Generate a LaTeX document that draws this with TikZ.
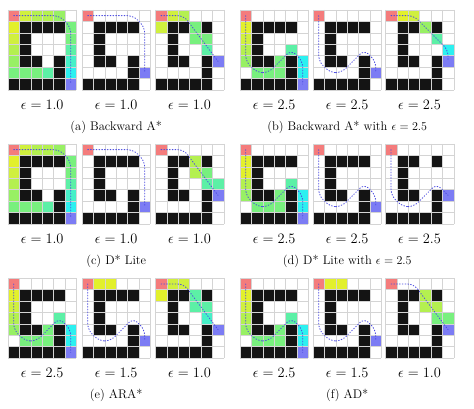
\documentclass[tikz,border=0pt]{standalone}
\usepackage{xcolor}
\usepackage{tikz}
\usetikzlibrary{positioning}
\definecolor{S}{HTML}{F47C7C}
\definecolor{G}{HTML}{7C7CF4}
\definecolor{K}{HTML}{141414}
\definecolor{W}{HTML}{FFFFFF}
\definecolor{Y1}{HTML}{E2F02C}
\definecolor{Y2}{HTML}{D0F03E}
\definecolor{Y3}{HTML}{B4F050}
\definecolor{L1}{HTML}{98F064}
\definecolor{L2}{HTML}{78F07E}
\definecolor{L3}{HTML}{5CF0A6}
\definecolor{L4}{HTML}{46F0C8}
\definecolor{C1}{HTML}{2CF0F0}
\definecolor{GridGray}{HTML}{D4D4D4}
\definecolor{RouteBlue}{HTML}{4C4CE0}

\newcommand{\maze}[4]{%
  \begin{scope}[shift={#1}, x=11.4pt, y=-11.4pt]
    \foreach \cells [count=\ri from 0] in #2 {
      \foreach \cell [count=\ci from 0] in \cells
        \fill[\cell] (\ci,\ri) rectangle ++(1,1);
    }
    \foreach \i in {0,...,6} \draw[gridline] (\i,0) -- (\i,7);
    \foreach \j in {0,...,7} \draw[gridline] (0,\j) -- (6,\j);
    \draw[route, shift={(0.5,0.5)}] #3;
    \coordinate (#4) at (3,7);
  \end{scope}}

\def\mazeplain{{S,W,W,W,W,W},{W,K,K,K,K,W},{W,K,W,W,W,W},{W,K,W,W,W,W},{W,K,K,W,K,W},{W,W,W,W,K,G},{K,K,K,K,K,W}}
\def\mazefull{{S,Y2,Y3,Y3,L1,W},{Y1,K,K,K,K,L2},{Y2,K,W,W,W,L2},{Y3,K,W,W,W,L3},{L1,K,K,W,K,L4},{L2,L2,L2,L3,K,C1},{K,K,K,K,K,G}}
\def\mazewave{{S,W,W,W,W,W},{Y1,K,K,K,K,W},{Y2,K,W,W,W,W},{Y3,K,W,W,L3,W},{L1,K,K,L2,K,C1},{W,L2,L2,L2,K,C1},{K,K,K,K,K,G}}
\def\mazetop{{S,Y1,Y1,W,W,W},{W,K,K,K,K,W},{W,K,W,W,W,W},{W,K,W,W,W,W},{W,K,K,W,K,W},{W,W,W,W,K,G},{K,K,K,K,K,W}}

\begin{document}
\begin{tikzpicture}[
  x=1pt, y=1pt,
  gridline/.style={draw=GridGray, line width=0.4pt},
  route/.style={draw=RouteBlue, line width=0.9pt, dash pattern=on 0.8pt off 2pt, line cap=round, rounded corners=6pt},
  eps/.style={inner sep=0pt, font=\fontsize{13.5}{15}\selectfont},
  caption/.style={inner sep=0pt, font=\fontsize{12.5}{14}\selectfont}
]
\path[fill=white] (0,0) rectangle (474,409);

% (a) Backward A*
\maze{(8,399)}{\mazefull}{(0,0) -- (4,0) -- (5,1) -- (5,6)}{a1}
\maze{(82,399)}{\mazeplain}{(0,0) -- (4,0) -- (5,1) -- (5,5)}{a2}
\maze{(155.3,399)}{{{S,Y2,Y3,W,W,W},{Y2,K,K,L2,K,W},{W,K,W,L2,L2,W},{W,K,W,W,L3,W},{W,K,K,W,K,G},{W,W,W,W,K,W},{K,K,K,K,K,W}}}{(0,0) -- (2,0) -- (5,4)}{a3}

% (b) Backward A* with eps = 2.5
\maze{(240,399)}{\mazewave}{(0,0) -- (0,4) -- (1,5) -- (2,5) -- (4,3) -- (5,4) -- (5,6)}{b1}
\maze{(313,399)}{\mazeplain}{(0,0) -- (0,4) -- (1,5) -- (2,5) -- (4,3) -- (5,4) -- (5,5)}{b2}
\maze{(385.3,399)}{{{S,Y1,Y2,W,W,W},{W,K,K,L1,K,W},{W,K,W,W,L3,W},{W,K,W,W,W,C1},{W,K,K,W,K,G},{W,W,W,W,K,W},{K,K,K,K,K,W}}}{(0,0) -- (2,0) -- (5,3) -- (5,4)}{b3}

% (c) D* Lite
\maze{(8,265)}{\mazefull}{(0,0) -- (4,0) -- (5,1) -- (5,6)}{c1}
\maze{(82,265)}{\mazeplain}{(0,0) -- (4,0) -- (5,1) -- (5,5)}{c2}
\maze{(155.3,265)}{{{S,W,W,W,W,W},{W,K,K,Y3,K,W},{W,K,W,Y3,L2,W},{W,K,W,W,L3,L3},{W,K,K,W,K,G},{W,W,W,W,K,W},{K,K,K,K,K,W}}}{(0,0) -- (2,0) -- (5,4)}{c3}

% (d) D* Lite with eps = 2.5
\maze{(240,265)}{{{S,W,W,W,W,W},{Y1,K,K,K,K,W},{Y1,K,W,W,W,W},{Y3,K,W,W,L3,W},{L1,K,K,L2,K,C1},{W,L2,L2,L2,K,C1},{K,K,K,K,K,G}}}{(0,0) -- (0,4) -- (1,5) -- (2,5) -- (4,3) -- (5,4) -- (5,6)}{d1}
\maze{(313,265)}{\mazeplain}{(0,0) -- (0,4) -- (1,5) -- (2,5) -- (4,3) -- (5,4) -- (5,5)}{d2}
\maze{(385.3,265)}{{{S,W,W,W,W,W},{W,K,K,W,K,W},{W,K,W,W,W,W},{W,K,W,W,W,W},{W,K,K,W,K,G},{W,W,W,W,K,W},{K,K,K,K,K,W}}}{(0,0) -- (0,4) -- (1,5) -- (2,5) -- (4,3) -- (5,4)}{d3}

% (e) ARA*
\maze{(8,130.7)}{\mazewave}{(0,0) -- (0,4) -- (1,5) -- (2,5) -- (4,3) -- (5,4) -- (5,6)}{e1}
\maze{(82,130.7)}{\mazetop}{(0,0) -- (0,4) -- (1,5) -- (2,5) -- (4,3) -- (5,4) -- (5,5)}{e2}
\maze{(155.3,130.7)}{{{S,Y2,Y2,W,W,W},{Y1,K,K,L3,K,W},{W,K,W,L3,L3,W},{W,K,W,W,L4,W},{W,K,K,W,K,G},{W,W,W,W,K,W},{K,K,K,K,K,W}}}{(0,0) -- (2,0) -- (5,4)}{e3}

% (f) AD*
\maze{(240,130.7)}{\mazewave}{(0,0) -- (0,4) -- (1,5) -- (2,5) -- (4,3) -- (5,4) -- (5,6)}{f1}
\maze{(313,130.7)}{\mazetop}{(0,0) -- (0,4) -- (1,5) -- (2,5) -- (4,3) -- (5,4) -- (5,5)}{f2}
\maze{(385.3,130.7)}{{{S,W,W,W,W,W},{W,K,K,Y3,K,W},{W,K,W,Y3,Y3,W},{W,K,W,W,L2,L2},{W,K,K,W,K,G},{W,W,W,W,K,W},{K,K,K,K,K,W}}}{(0,0) -- (2,0) -- (5,4)}{f3}

\node[eps, below=9.8pt of a1] (epsA1) {$\epsilon = 1.0$};
\node[eps, below=9.8pt of a2] (epsA2) {$\epsilon = 1.0$};
\node[eps, below=9.8pt of a3] (epsA3) {$\epsilon = 1.0$};
\node[eps, below=9.8pt of b1] (epsB1) {$\epsilon = 2.5$};
\node[eps, below=9.8pt of b2] (epsB2) {$\epsilon = 2.5$};
\node[eps, below=9.8pt of b3] (epsB3) {$\epsilon = 2.5$};
\node[eps, below=9.8pt of c1] (epsC1) {$\epsilon = 1.0$};
\node[eps, below=9.8pt of c2] (epsC2) {$\epsilon = 1.0$};
\node[eps, below=9.8pt of c3] (epsC3) {$\epsilon = 1.0$};
\node[eps, below=9.8pt of d1] (epsD1) {$\epsilon = 2.5$};
\node[eps, below=9.8pt of d2] (epsD2) {$\epsilon = 2.5$};
\node[eps, below=9.8pt of d3] (epsD3) {$\epsilon = 2.5$};
\node[eps, below=9.8pt of e1] (epsE1) {$\epsilon = 2.5$};
\node[eps, below=9.8pt of e2] (epsE2) {$\epsilon = 1.5$};
\node[eps, below=9.8pt of e3] (epsE3) {$\epsilon = 1.0$};
\node[eps, below=9.8pt of f1] (epsF1) {$\epsilon = 2.5$};
\node[eps, below=9.8pt of f2] (epsF2) {$\epsilon = 1.5$};
\node[eps, below=9.8pt of f3] (epsF3) {$\epsilon = 1.0$};

\node[caption, below=11.4pt of epsA2] (capA) {(a) Backward A*};
\node[caption, below=11.4pt of epsB2] (capB) {(b) Backward A* with $\epsilon = 2.5$};
\node[caption, below=11.4pt of epsC2] (capC) {(c) D* Lite};
\node[caption, below=11.4pt of epsD2] (capD) {(d) D* Lite with $\epsilon = 2.5$};
\node[caption, below=11.4pt of epsE2] (capE) {(e) ARA*};
\node[caption, below=11.4pt of epsF2] (capF) {(f) AD*};
\end{tikzpicture}
\end{document}
